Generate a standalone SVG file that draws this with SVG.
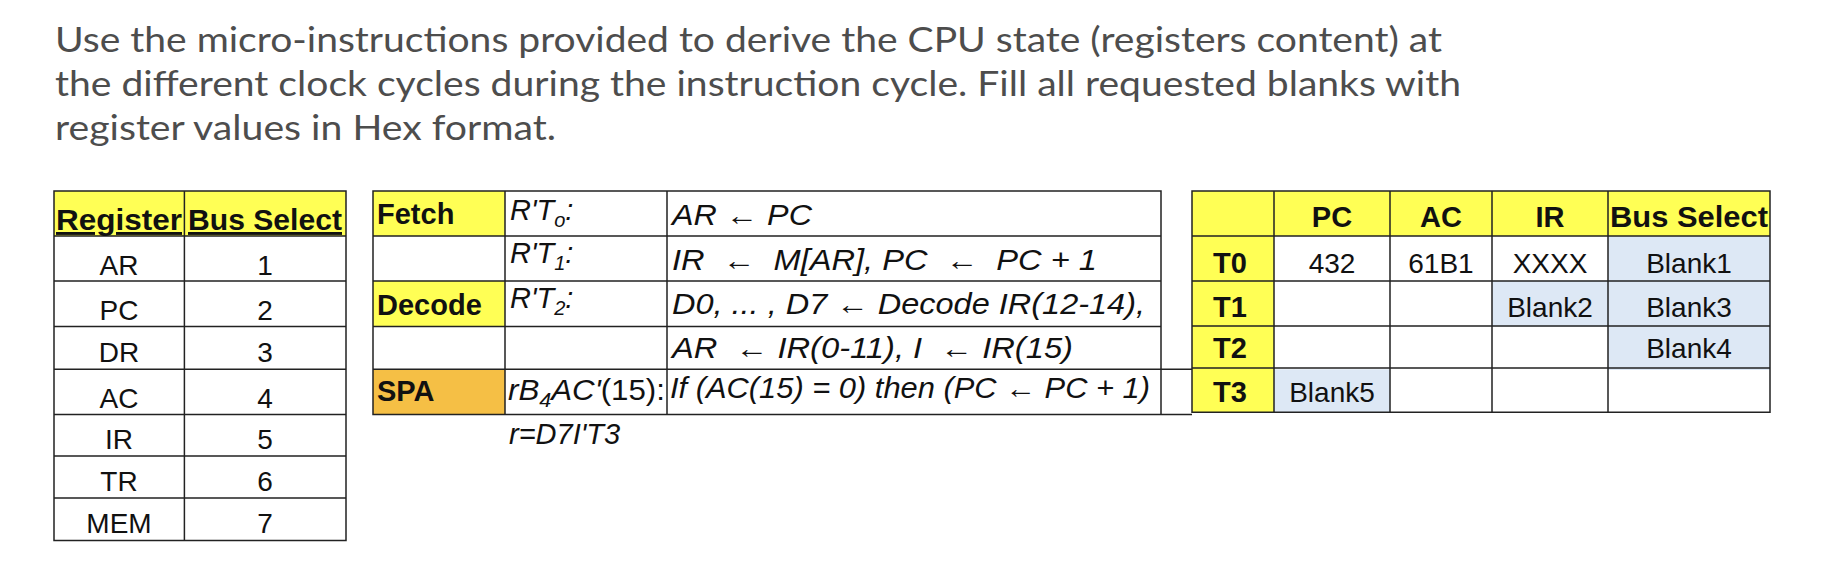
<svg xmlns="http://www.w3.org/2000/svg" width="1836" height="566" viewBox="0 0 1836 566">
<style>
.t{font-family:Lato,"Open Sans",sans-serif;font-size:35px;fill:#4d4d4d}
.c{font-family:"Liberation Sans",Arial,sans-serif;font-size:28px;fill:#111;text-anchor:middle}
.b{font-family:"Liberation Sans",Arial,sans-serif;font-size:29px;font-weight:bold;fill:#111}
.i{font-family:"Liberation Sans",Arial,sans-serif;font-size:29px;font-style:italic;fill:#111}
.g{stroke:#222;stroke-width:1.5;fill:none}
.y{fill:#ffff55}.o{fill:#f5bf45}.l{fill:#dde8f5}
</style>
<rect width="1836" height="566" fill="#fff"/>
<g id="title">
<text class="t" x="55" y="52" textLength="1387" lengthAdjust="spacingAndGlyphs">Use the micro-instructions provided to derive the CPU state (registers content) at</text>
<text class="t" x="55" y="96" textLength="1406" lengthAdjust="spacingAndGlyphs">the different clock cycles during the instruction cycle. Fill all requested blanks with</text>
<text class="t" x="55" y="140" textLength="501" lengthAdjust="spacingAndGlyphs">register values in Hex format.</text>
</g>
<g id="busTable">
<rect class="y" x="54" y="191" width="292" height="45"/>
<path class="g" d="M54 191H346V540.5H54Z M54 236H346 M54 281H346 M54 326.6H346 M54 369.3H346 M54 414.4H346 M54 456H346 M54 498H346 M184.4 191V540.5"/>
<text class="b" x="119" y="230" text-anchor="middle" text-decoration="underline" textLength="126" lengthAdjust="spacingAndGlyphs">Register</text>
<text class="b" x="265" y="230" text-anchor="middle" text-decoration="underline" textLength="154" lengthAdjust="spacingAndGlyphs">Bus Select</text>
<text class="c" x="119" y="275">AR</text><text class="c" x="265" y="275">1</text>
<text class="c" x="119" y="320">PC</text><text class="c" x="265" y="320">2</text>
<text class="c" x="119" y="362">DR</text><text class="c" x="265" y="362">3</text>
<text class="c" x="119" y="408">AC</text><text class="c" x="265" y="408">4</text>
<text class="c" x="119" y="449">IR</text><text class="c" x="265" y="449">5</text>
<text class="c" x="119" y="491">TR</text><text class="c" x="265" y="491">6</text>
<text class="c" x="119" y="533">MEM</text><text class="c" x="265" y="533">7</text>
</g>
<g id="microTable">
<rect class="y" x="373" y="191" width="132" height="45"/>
<rect class="y" x="373" y="281" width="132" height="45.6"/>
<rect class="o" x="373" y="369.3" width="132" height="45"/>
<path class="g" d="M373 191H1161V414.4H373Z M373 236H1161 M373 281H1161 M373 326.6H1161 M373 369.3H1192 M373 414.4H1192 M505 191V414.4 M667 191V414.4"/>
<text class="b" x="377" y="224">Fetch</text>
<text class="b" x="377" y="315">Decode</text>
<text class="b" x="377" y="401">SPA</text>
<text class="i" x="510" y="220">R'T<tspan font-size="20" dy="7">o</tspan><tspan dy="-7">:</tspan></text>
<text class="i" x="510" y="263">R'T<tspan font-size="20" dy="7">1</tspan><tspan dy="-7">:</tspan></text>
<text class="i" x="510" y="308">R'T<tspan font-size="20" dy="7">2</tspan><tspan dy="-7">:</tspan></text>
<text class="i" x="508" y="400" textLength="157" lengthAdjust="spacingAndGlyphs">rB<tspan font-size="20" dy="7">4</tspan><tspan dy="-7">AC'</tspan><tspan font-style="normal">(15):</tspan></text>
<text class="i" x="509" y="444">r=D7I'T3</text>
<text class="i" x="672" y="225" textLength="140" lengthAdjust="spacingAndGlyphs">AR ← PC</text>
<text class="i" x="672" y="270" xml:space="preserve" textLength="425" lengthAdjust="spacingAndGlyphs">IR  ←  M[AR], PC  ←  PC + 1</text>
<text class="i" x="672" y="314" textLength="473" lengthAdjust="spacingAndGlyphs">D0, ... , D7 ← Decode IR(12-14),</text>
<text class="i" x="672" y="358" xml:space="preserve" textLength="401" lengthAdjust="spacingAndGlyphs">AR  ← IR(0-11), I  ← IR(15)</text>
<text class="i" x="670" y="398" textLength="480" lengthAdjust="spacingAndGlyphs">If (AC(15) = 0) then (PC ← PC + 1)</text>
</g>
<g id="stateTable">
<rect class="y" x="1192" y="191" width="578" height="45"/>
<rect class="y" x="1192" y="191" width="82" height="221.5"/>
<rect class="l" x="1608" y="236" width="162" height="134"/>
<rect class="l" x="1492" y="281" width="116" height="45.6"/>
<rect class="l" x="1274" y="369.3" width="116" height="43"/>
<path class="g" d="M1192 191H1770V412.3H1192Z M1192 236H1770 M1192 281H1770 M1192 326H1770 M1192 368H1770 M1274 191V412.3 M1390 191V412.3 M1492 191V412.3 M1608 191V412.3"/>
<text class="b" x="1332" y="227" text-anchor="middle">PC</text>
<text class="b" x="1441" y="227" text-anchor="middle">AC</text>
<text class="b" x="1550" y="227" text-anchor="middle">IR</text>
<text class="b" x="1689" y="227" text-anchor="middle" textLength="158" lengthAdjust="spacingAndGlyphs">Bus Select</text>
<text class="b" x="1213" y="273">T0</text>
<text class="b" x="1213" y="317">T1</text>
<text class="b" x="1213" y="358">T2</text>
<text class="b" x="1213" y="402">T3</text>
<text class="c" x="1332" y="273">432</text>
<text class="c" x="1441" y="273">61B1</text>
<text class="c" x="1550" y="273">XXXX</text>
<text class="c" x="1689" y="273">Blank1</text>
<text class="c" x="1550" y="317">Blank2</text>
<text class="c" x="1689" y="317">Blank3</text>
<text class="c" x="1689" y="358">Blank4</text>
<text class="c" x="1332" y="402">Blank5</text>
</g>
</svg>
